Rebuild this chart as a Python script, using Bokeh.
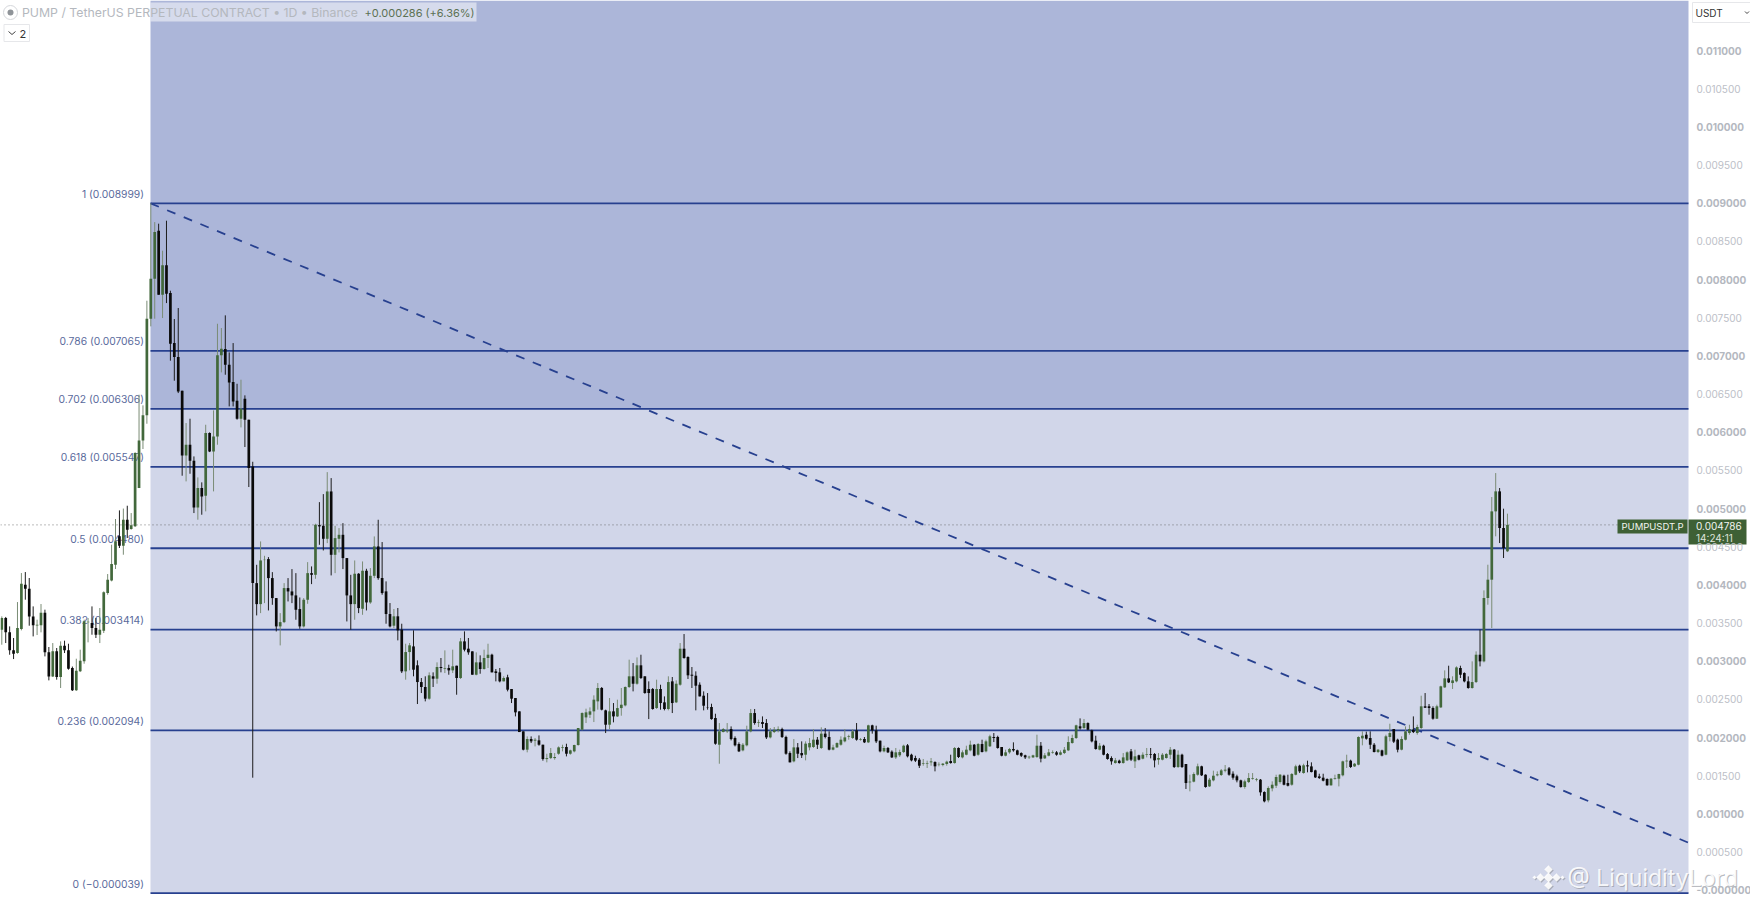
from math import pi
from bokeh.plotting import figure
from bokeh.models import LinearAxis, FixedTicker, NumeralTickFormatter, Range1d
from bokeh.core.properties import value
from bokeh.embed import file_html
from bokeh.resources import INLINE

# ---- data: daily OHLC in millionths of USDT
opens_u = [
 3413,3566,3378,3142,3107,3422,4002,3950,3587,3468,3470,3636,3116,2801,3129,2793,3203,3142,2911,2618,
 2867,2998,3510,3500,3435,3347,3400,3893,4059,4264,4636,4513,4854,4732,4767,5268,5893,6221,7487,8011,
 8640,7801,8186,7823,7168,6985,6544,5696,5836,5627,5015,5268,5168,5989,5749,5945,7007,7090,6884,6657,
 6413,6177,6439,6164,5552,4023,3748,4325,4338,4089,3827,3456,3512,3958,3914,3862,3683,3456,3805,4154,
 4132,4783,4774,4604,5224,4394,4604,4656,4351,3862,3748,4146,3687,4185,3770,4119,4504,4090,3915,3618,
 3465,3588,3413,2867,3120,3194,2946,2727,2662,2509,2802,2771,2924,2902,2911,2880,2941,2780,3260,3164,
 3129,2823,2985,2898,3042,3085,2867,2854,2736,2789,2636,2518,2343,2081,1841,1981,1959,1963,1906,1718,
 1731,1731,1788,1867,1876,1788,1819,1902,2103,2264,2299,2343,2474,2649,2356,2168,2343,2277,2386,2421,
 2662,2802,2705,2946,2802,2636,2636,2387,2636,2461,2374,2736,2461,2692,3164,3055,2823,2810,2692,2548,
 2400,2400,2256,1906,2072,2081,2111,1994,1915,1832,1898,2081,2321,2190,2203,2190,2002,2072,2094,2111,
 2007,1797,1688,1871,1797,1775,1871,1876,1972,1863,2051,2007,1841,1871,1906,1950,2007,1994,2094,1972,
 1981,1937,2160,2094,1959,1819,1863,1815,1740,1767,1810,1898,1775,1732,1710,1658,1658,1675,1679,1640,
 1640,1653,1692,1666,1863,1740,1775,1832,1906,1775,1915,1819,1885,2007,2007,1876,1762,1806,1850,1832,
 1797,1767,1740,1740,1745,1893,1727,1762,1802,1806,1775,1797,1832,1928,1994,2147,2125,2190,2094,1959,
 1841,1893,1784,1732,1666,1697,1666,1701,1819,1688,1767,1723,1775,1784,1784,1710,1710,1732,1775,1841,
 1614,1775,1653,1413,1422,1513,1623,1513,1360,1439,1505,1509,1566,1596,1526,1492,1439,1352,1417,1461,
 1448,1448,1286,1177,1334,1369,1417,1500,1404,1382,1513,1631,1535,1636,1622,1570,1491,1474,1457,1374,
 1461,1461,1505,1688,1697,1622,1644,1989,2037,1994,1906,1810,1832,1775,2007,2112,1972,1841,1972,2059,
 2103,2059,2125,2409,2409,2387,2247,2395,2657,2775,2714,2736,2911,2845,2736,2649,2727,3085,2998,3828,
 4068,4963,5225,4745,4440]
highs_u = [
 3587,3580,3456,3304,3775,4155,4168,4090,3718,3544,3749,3675,3186,3238,3173,3260,3269,3229,2930,3033,
 3151,3544,3566,3718,3566,3697,3915,4142,4526,4863,4976,5000,5037,4941,5738,6491,6352,7723,8999,8753,
 8732,8378,8771,7854,7483,7627,6544,6120,6177,5683,5408,5343,6098,5998,6286,7421,7365,7531,7046,7168,
 6635,6688,6483,6164,5613,4263,4569,4381,4364,4167,3827,3630,4023,4089,4207,4154,3835,3827,4298,4242,
 4801,5084,5189,5477,5399,4774,4744,4809,4351,4132,4320,4154,4307,4211,4220,4635,4853,4561,4046,3762,
 3684,3697,3491,3229,3238,3404,3011,2780,2802,2854,2854,2985,3042,3142,2954,3151,2941,3304,3391,3304,
 3129,3116,3077,3151,3229,3098,2898,2911,2802,2823,2636,2518,2343,2081,2015,2015,1994,2028,1906,1788,
 1863,1797,1884,1906,1919,1841,1906,2125,2330,2378,2395,2553,2714,2662,2365,2518,2452,2496,2649,2670,
 3020,2976,3050,3085,2802,2736,2649,2758,2692,2539,2802,2793,2749,3238,3356,3064,2924,2867,2723,2605,
 2583,2443,2312,2190,2125,2190,2146,2015,1937,1928,2155,2374,2374,2234,2277,2242,2125,2138,2146,2129,
 2024,1819,1980,1928,1950,1950,1994,2112,2007,2134,2125,2081,1906,1937,2016,2112,2037,2112,2190,1994,
 2007,2168,2168,2155,1959,1893,1876,1832,1863,1841,1906,1915,1788,1762,1732,1719,1697,1732,1688,1675,
 1666,1697,1775,1876,1871,1832,1893,1959,1915,1928,1972,1972,2037,2059,2024,1876,1841,1863,1937,1841,
 1806,1775,1762,1775,2037,1941,1797,1850,1832,1823,1832,1876,2016,2037,2168,2251,2243,2199,2103,2024,
 1928,1906,1797,1754,1732,1710,1797,1819,1850,1841,1775,1806,1863,1863,1797,1797,1797,1797,1876,1850,
 1832,1788,1653,1513,1544,1658,1631,1518,1470,1566,1557,1588,1640,1614,1557,1513,1448,1448,1535,1535,
 1470,1457,1295,1361,1426,1513,1522,1513,1513,1535,1644,1644,1657,1697,1675,1579,1526,1526,1465,1470,
 1513,1526,1697,1775,1710,1666,2016,2081,2077,2081,1928,1850,1841,2037,2181,2112,1985,2016,2146,2168,
 2277,2168,2548,2583,2439,2409,2430,2679,2880,2941,2802,2933,2941,2854,2801,2998,3129,3413,3928,4264,
 5151,5465,5269,4998,4933]
lows_u = [
 3216,3238,3085,3028,3098,3404,3806,3465,3325,3343,3378,3063,2749,2793,2758,2649,3107,2889,2610,2610,
 2858,2967,3247,3347,3304,3238,3369,3871,4046,4208,4483,4395,4614,4723,4758,5268,5780,6111,7387,7487,
 7801,7496,7692,6937,6675,6513,5430,5356,5456,4941,4854,4919,4963,5740,5225,5836,6784,6753,6338,6338,
 6164,6063,5806,5282,1474,3600,3630,3761,3665,3739,3390,3207,3499,3783,3761,3543,3425,3442,3752,4010,
 4080,4525,4451,4547,4124,4154,4425,4207,3521,3412,3543,3630,3608,3665,3752,4089,4067,3871,3491,3443,
 3435,3273,2845,2758,2880,2802,2439,2583,2474,2496,2662,2705,2854,2845,2823,2845,2561,2767,3129,3085,
 2823,2815,2836,2889,2911,2854,2736,2723,2736,2605,2452,2277,2072,1832,1806,1928,1884,1893,1697,1675,
 1718,1710,1775,1819,1753,1775,1806,1893,2094,2190,2256,2203,2365,2356,2059,2111,2199,2269,2286,2408,
 2649,2605,2692,2767,2574,2242,2365,2374,2365,2356,2356,2321,2452,2679,3033,2767,2649,2356,2539,2356,
 2365,2234,1906,1657,2068,2059,1963,1884,1810,1819,1884,2068,2168,2138,2125,1981,1989,2059,2068,1994,
 1775,1675,1675,1731,1732,1701,1832,1863,1850,1850,1989,1832,1832,1863,1893,1937,1972,1981,1959,1959,
 1928,1928,2051,1928,1806,1806,1797,1732,1719,1745,1797,1740,1688,1679,1601,1631,1601,1631,1557,1623,
 1623,1631,1658,1658,1732,1727,1767,1819,1754,1762,1806,1806,1876,1941,1854,1754,1754,1788,1815,1767,
 1745,1719,1719,1732,1732,1675,1719,1754,1788,1762,1767,1784,1823,1920,1981,2103,2112,2094,1937,1841,
 1832,1767,1710,1644,1658,1658,1658,1692,1692,1601,1701,1714,1740,1727,1609,1644,1701,1723,1719,1601,
 1601,1601,1326,1295,1413,1500,1496,1343,1352,1426,1492,1496,1544,1500,1448,1413,1343,1330,1404,1448,
 1426,1238,1151,1151,1295,1339,1396,1374,1360,1369,1505,1535,1526,1544,1544,1470,1457,1426,1369,1369,
 1448,1360,1491,1601,1601,1614,1636,1898,1972,1850,1806,1797,1753,1767,1950,1928,1806,1832,1963,2037,
 2059,2037,2112,2387,2299,2234,2243,2387,2649,2714,2636,2723,2780,2723,2640,2640,2714,2932,2985,3740,
 3435,4636,4548,4352,4430]
closes_u = [
 3566,3378,3142,3098,3435,4015,3950,3587,3470,3478,3636,3116,2801,3129,2793,3203,3142,2902,2618,2876,
 3007,3522,3518,3435,3347,3413,3902,4068,4273,4570,4513,4854,4723,4780,5727,5893,6221,7487,8011,8622,
 7801,8186,7815,7159,6985,6535,5696,5836,5627,5015,5268,5159,5989,5749,5945,7007,7094,6884,6653,6404,
 6177,6308,6164,5531,4023,3748,4320,4329,4089,3827,3456,3512,3958,3914,3862,3674,3456,3805,4154,4132,
 4787,4766,4604,5224,4394,4613,4656,4351,3862,3748,4146,3696,4185,3770,4119,4504,4089,3893,3618,3456,
 3588,3404,2867,3120,3208,2889,2727,2662,2509,2815,2771,2924,2911,2911,2880,2933,2780,3260,3151,3116,
 2823,2985,2898,3042,3085,2854,2845,2736,2780,2627,2509,2330,2072,1841,1981,1950,1972,1906,1718,1731,
 1797,1745,1871,1876,1788,1832,1902,2125,2321,2330,2343,2496,2649,2365,2168,2343,2277,2386,2430,2662,
 2802,2705,2946,2780,2583,2583,2374,2636,2452,2374,2727,2452,2705,3164,3042,2815,2810,2679,2539,2417,
 2396,2242,1919,2081,2111,2094,1980,1898,1819,1906,2081,2321,2190,2199,2177,2002,2081,2103,2111,2007,
 1788,1675,1871,1788,1767,1920,1928,1972,1906,2051,2007,1841,1871,1928,1972,2002,2016,2081,1972,1981,
 1937,2160,2094,1950,1819,1863,1806,1740,1806,1810,1893,1754,1701,1697,1631,1666,1666,1688,1623,1644,
 1658,1684,1666,1863,1745,1806,1841,1906,1762,1915,1810,1950,2016,1994,1863,1762,1806,1850,1832,1775,
 1762,1740,1749,1767,1893,1723,1767,1806,1810,1775,1806,1841,1941,1994,2160,2120,2190,2103,1950,1850,
 1893,1775,1719,1688,1701,1666,1740,1806,1710,1754,1710,1775,1784,1775,1701,1732,1775,1784,1841,1614,
 1775,1614,1404,1422,1522,1623,1505,1352,1448,1500,1518,1570,1579,1513,1474,1439,1352,1426,1470,1470,
 1457,1282,1164,1339,1382,1483,1513,1382,1369,1522,1623,1557,1636,1622,1548,1478,1470,1435,1374,1461,
 1470,1522,1688,1697,1614,1657,2007,2024,1985,1906,1810,1841,1762,2016,2059,1946,1841,1981,2081,2112,
 2072,2138,2409,2391,2387,2247,2409,2671,2775,2723,2749,2919,2823,2736,2649,2727,3085,2998,3828,4068,
 4963,5225,4745,4483,4786]
assert len(opens_u) == len(highs_u) == len(lows_u) == len(closes_u) == 385

fib_ratios = ["1", "0.786", "0.702", "0.618", "0.5", "0.382", "0.236", "0"]
fib_prices = [0.008999, 0.007065, 0.006306, 0.005547, 0.004480, 0.003414, 0.002094, -0.000039]
fib_texts = ["0.008999", "0.007065", "0.006306", "0.005547", "0.004480", "0.003414", "0.002094", "\u22120.000039"]
trend_prices = [0.008999, 0.000622]
last_price = 0.004786
bold_ticks = [0.0, 0.001, 0.002, 0.003, 0.004, 0.005, 0.006, 0.007, 0.008, 0.009, 0.010, 0.011]
light_ticks = [0.0005, 0.0015, 0.0025, 0.0035, 0.0045, 0.0055, 0.0065, 0.0075, 0.0085, 0.0095, 0.0105]
title_text = "PUMP / TetherUS PERPETUAL CONTRACT \u2022 1D \u2022 Binance"
change_text = "+0.000286 (+6.36%)"
symbol_text = "PUMPUSDT.P"
countdown_text = "14:24:11"

# ---- photo-pixel helpers (layout only)
STEP = 3.921
def kx(px):
    return (px - 1.3) / STEP
def py(y):
    return (889.7 - y) / 76330.0

W, H = 1750, 902
p = figure(width=W, height=H, output_backend="svg", toolbar_location=None,
           x_axis_location=None, y_axis_location=None, tools="",
           x_range=Range1d(kx(0), kx(W)), y_range=Range1d(py(H), py(0)),
           min_border=0, outline_line_color=None, background_fill_color="white",
           border_fill_color="white")
p.grid.visible = False

FIB_L, FIB_R = kx(150), kx(1688)
TOP = py(0)
FONT = value("Inter")

# zones
p.quad(left=FIB_L, right=FIB_R, bottom=fib_prices[7], top=fib_prices[2], fill_color="#d1d6e9", line_color=None)
p.quad(left=FIB_L, right=FIB_R, bottom=fib_prices[2], top=TOP, fill_color="#acb6d9", line_color=None)

# last price dotted line
p.segment(x0=kx(0), x1=kx(1617), y0=last_price, y1=last_price, line_color="#555555", line_width=1,
          line_dash="1 3", line_alpha=0.8)

# fib levels
p.segment(x0=[FIB_L] * 8, x1=[FIB_R] * 8, y0=fib_prices, y1=fib_prices, line_color="#27408f", line_width=1.8)
p.line(x=[FIB_L, FIB_R], y=trend_prices, line_color="#27408f", line_width=1.8, line_dash="9 9")
p.text(x=[kx(143.5)] * 8, y=fib_prices, text=[f"{r} ({t})" for r, t in zip(fib_ratios, fib_texts)],
       text_font=FONT, text_font_size="10.3px", text_color="#5a6a9c", text_align="right",
       text_baseline="middle", y_offset=-9.5)

# candles
xs = list(range(len(opens_u)))
O = [v * 1e-6 for v in opens_u]
Hi = [v * 1e-6 for v in highs_u]
Lo = [v * 1e-6 for v in lows_u]
C = [v * 1e-6 for v in closes_u]
up = [c >= o for o, c in zip(O, C)]
wick_col = ["#7a8c75" if u else "#1c1c1c" for u in up]
body_col = ["#42683b" if u else "#0a0a0a" for u in up]
p.segment(x0=xs, x1=xs, y0=Lo, y1=Hi, line_color=wick_col, line_width=1)
p.vbar(x=xs, width=2.7 / STEP, bottom=[min(a, b) for a, b in zip(O, C)],
       top=[max(a, b) for a, b in zip(O, C)], fill_color=body_col, line_color=None)

# price axis, bold and light labels on two real axes at the right edge of the drawing
for ticks, style, col in ((bold_ticks, "bold", "#b4b8bf"), (light_ticks, "normal", "#bcc0c7")):
    ax = LinearAxis(ticker=FixedTicker(ticks=ticks), formatter=NumeralTickFormatter(format="0.000000"),
                    fixed_location=FIB_R, axis_line_color=None, major_tick_line_color=None,
                    minor_tick_line_color=None, major_label_standoff=2,
                    major_label_text_font="Inter", major_label_text_font_size="10px",
                    major_label_text_font_style=style, major_label_text_color=col)
    if 0.0 in ticks:
        ax.major_label_overrides = {0: "-0.000000"}
    p.add_layout(ax, "right")

# header
p.quad(left=kx(150), right=kx(476), bottom=py(21), top=py(2), fill_color="white", fill_alpha=0.5, line_color=None)
p.scatter(x=[kx(10)], y=[py(12)], marker="circle", size=14, fill_color="white", line_color="#d5d7db")
p.scatter(x=[kx(10)], y=[py(12)], marker="circle", size=6, fill_color="#8f9499", line_color=None)
p.text(x=[kx(21.5)], y=[py(12)], text=[title_text], text_font=FONT, text_font_size="12.3px",
       text_color="#b4b8be", text_baseline="middle")
p.text(x=[kx(364)], y=[py(12)], text=[change_text], text_font=FONT, text_font_size="11px",
       text_color="#5c7254", text_baseline="middle")

# collapse button
p.quad(left=kx(3.5), right=kx(29), bottom=py(41), top=py(24), fill_color="white", line_color="#e6e7ea")
p.line(x=[kx(8), kx(11.5), kx(15)], y=[py(31), py(34), py(31)], line_color="#444444", line_width=1)
p.text(x=[kx(19)], y=[py(33)], text=["2"], text_font=FONT, text_font_size="11px", text_color="#333333",
       text_baseline="middle")

# currency selector
p.quad(left=kx(1692), right=kx(1760), bottom=py(22), top=py(2), fill_color="white", line_color="#e6e7ea")
p.text(x=[kx(1695)], y=[py(12)], text=["USDT"], text_font=FONT, text_font_size="10px", text_color="#333333",
       text_baseline="middle")
p.line(x=[kx(1744.5), kx(1746.5), kx(1748.5)], y=[py(11), py(13), py(11)], line_color="#444444", line_width=1)

# price tag
TAG = "#3e6035"
p.quad(left=kx(1617), right=kx(1687), bottom=py(533), top=py(519), fill_color=TAG, line_color=None)
p.quad(left=kx(1688), right=kx(1746), bottom=py(544), top=py(519), fill_color=TAG, line_color=None)
p.text(x=[kx(1621)], y=[py(526)], text=[symbol_text], text_font=FONT, text_font_size="9.5px",
       text_color="#f2f4f0", text_baseline="middle")
p.text(x=[kx(1695.5)], y=[py(525.5)], text=[f"{last_price:.6f}"], text_font=FONT, text_font_size="10px",
       text_color="#f2f4f0", text_baseline="middle")
p.text(x=[kx(1695.5)], y=[py(537)], text=[countdown_text], text_font=FONT, text_font_size="10px",
       text_color="#dfe4dc", text_baseline="middle")

# watermark
cx, cy = 1548, 877
dx = [0, 0, 0, -8, 8, -14, 14]
dy = [0, -8, 8, 0, 0, 0, 0]
sz = [7, 6, 6, 6, 6, 3, 3]
for off, col, al in ((1, "#8c8f98", 0.6), (0, "#ffffff", 0.9)):
    p.scatter(x=[kx(cx + a + off) for a in dx], y=[py(cy + b + off) for b in dy], marker="square", size=sz,
              angle=pi / 4, fill_color=col, fill_alpha=al, line_color=None)
    p.text(x=[kx(1567 + off)], y=[py(877 + off)], text=["@ LiquidityLord"], text_font=FONT, text_font_size="23px",
           text_color=col, text_alpha=al, text_baseline="middle")

open("out.html", "w").write(file_html(p, INLINE))
